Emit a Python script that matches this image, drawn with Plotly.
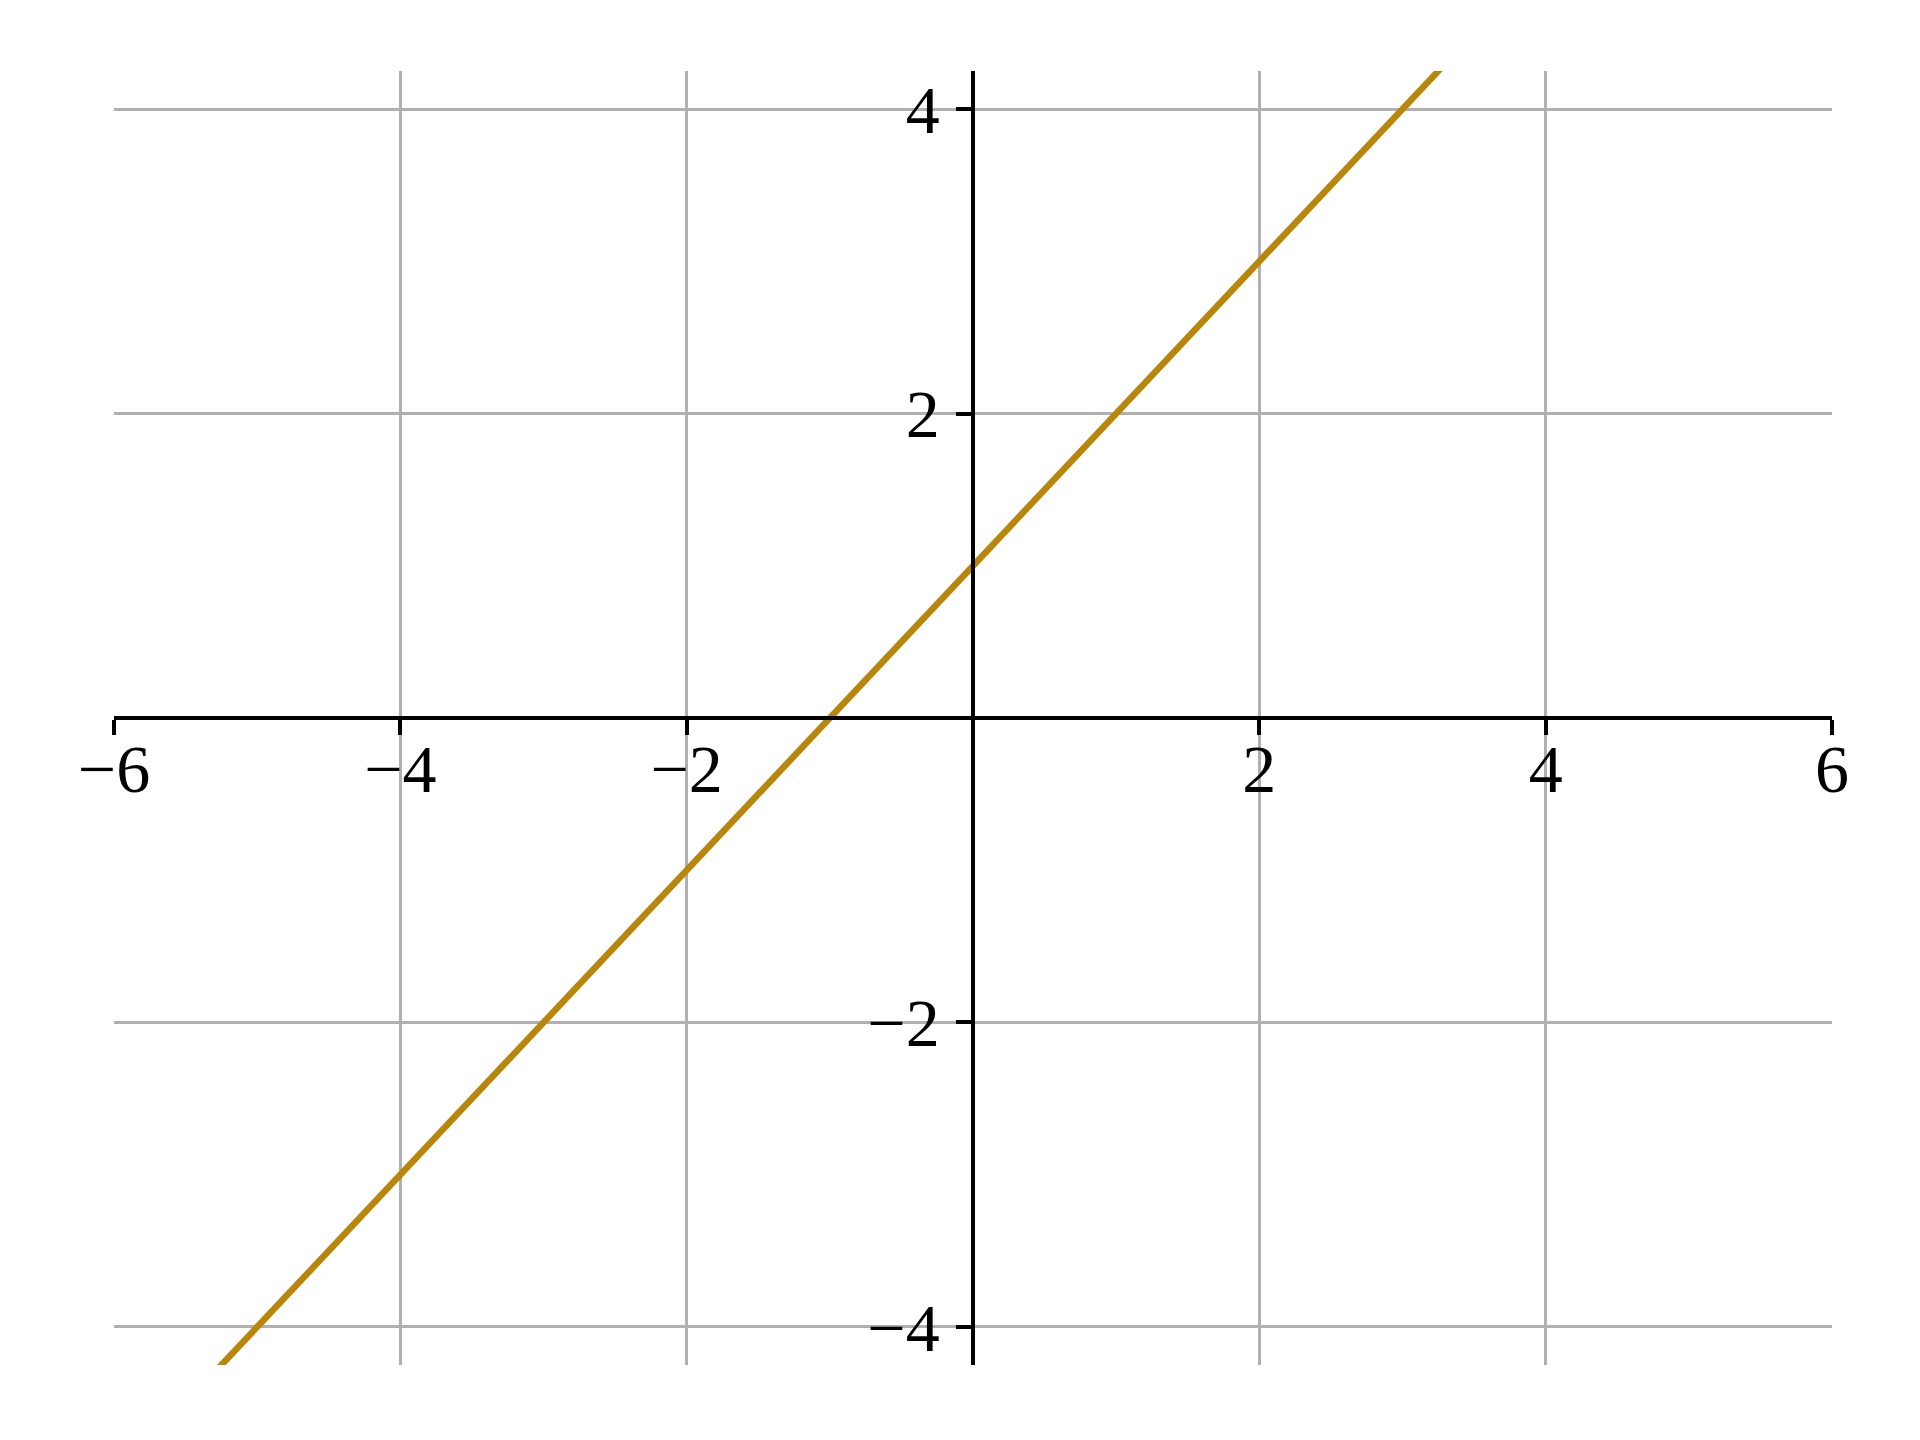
import numpy as np
import plotly.graph_objects as go

# retta y = x + 1
x_vals = [-6, -5, -4, -3, -2, -1, 0, 1, 2, 3, 4, 5, 6]
y_vals = [-5, -4, -3, -2, -1, 0, 1, 2, 3, 4, 5, 6, 7]

x_ticks = [-6, -4, -2, 2, 4, 6]
y_ticks = [-4, -2, 2, 4]

fig = go.Figure()
fig.add_trace(go.Scatter(x=x_vals, y=y_vals, mode="lines",
                         line=dict(color="#b8860b", width=6.5)))

asse = dict(
    showgrid=True, gridcolor="#b0b0b0", gridwidth=3,
    zeroline=False, showline=True, linecolor="black", linewidth=3.5,
    ticks="outside", ticklen=15, tickwidth=3.5, tickcolor="black",
    anchor="free", position=0.5,
    tickfont=dict(family="Liberation Serif", size=68, color="black"),
)

fig.update_layout(
    width=1920, height=1440,
    margin=dict(l=106, r=96, t=63, b=83),
    paper_bgcolor="white", plot_bgcolor="white",
    showlegend=False,
    xaxis=dict(asse, range=[-6, 6], tickvals=x_ticks, side="bottom", ticklabelstandoff=-24),
    yaxis=dict(asse, range=[-4.25, 4.25], tickvals=y_ticks, side="left", ticklabelstandoff=3),
)

fig.write_html("out.html")
